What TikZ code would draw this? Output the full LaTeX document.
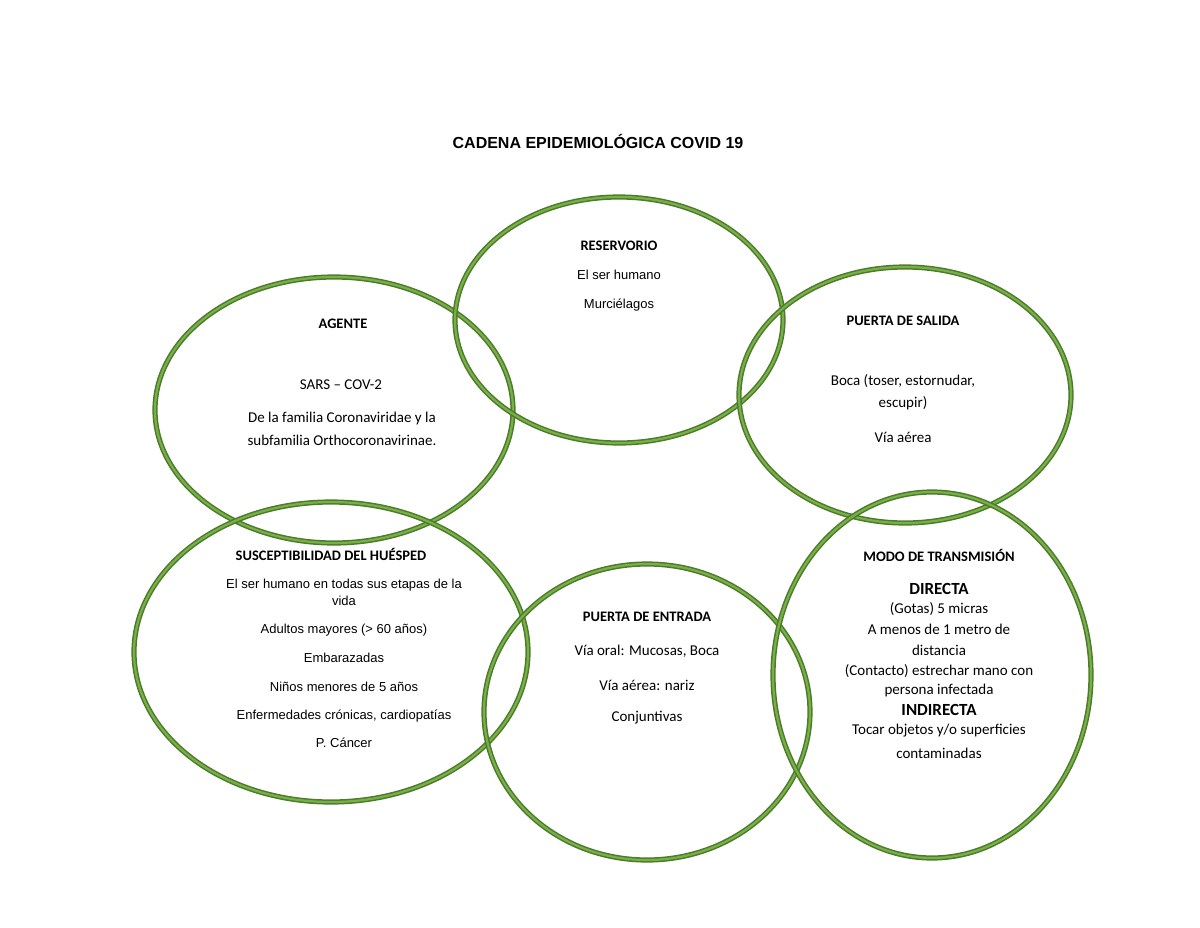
\documentclass[tikz,border=0pt]{standalone}
\usepackage{fontspec}
\setmainfont{Liberation Sans}
\newfontfamily\calfont{Carlito}
\definecolor{rimdark}{HTML}{4E7A2C}
\definecolor{rimlight}{HTML}{76B046}
\begin{document}
\begin{tikzpicture}[x=1pt,y=-1pt,
  ring/.style={draw=rimdark,line width=1.5pt,double=rimlight,double distance=2.2pt},
  ar/.style={font=\fontsize{13}{15}\selectfont},
  ca/.style={font=\calfont\fontsize{15}{17}\selectfont},
  hd/.style={font=\calfont\bfseries\fontsize{14.5}{17}\selectfont},
  ti/.style={font=\bfseries\fontsize{16}{19}\selectfont}]
\useasboundingbox (0,0) rectangle (1200,927);
\fill[white] (0,0) rectangle (1200,927);
\draw[ring] (334,410) ellipse [x radius=179,y radius=133];
\draw[ring] (619,320) ellipse [x radius=164,y radius=123];
\draw[ring] (905,395) ellipse [x radius=166,y radius=128];
\draw[ring] (331,652) ellipse [x radius=197,y radius=150];
\draw[ring] (647,712) ellipse [x radius=163,y radius=148];
\draw[ring] (932,675) ellipse [x radius=159,y radius=183];
\node[ti] (t) at (598,141) {CADENA EPIDEMIOLÓGICA COVID 19};
% agente
\node[hd] (a1) at (343,324) {AGENTE};
\node[ca] (a2) at (341,385) {SARS – COV-2};
\node[ca] (a3) at (342,418) {De la familia Coronaviridae y la};
\node[ca] (a4) at (342,440) {subfamilia Orthocoronavirinae.};
% reservorio
\node[hd] (r1) at (619,246) {RESERVORIO};
\node[ar] (r2) at (619,275) {El ser humano};
\node[ar] (r3) at (619,305) {Murciélagos};
% salida
\node[hd] (s1) at (903,321) {PUERTA DE SALIDA};
\node[ca] (s2) at (903,381) {Boca (toser, estornudar,};
\node[ca] (s3) at (903,403) {escupir)};
\node[ca] (s4) at (903,437) {Vía aérea};
% susceptibilidad
\node[hd] (u1) at (331,554) {SUSCEPTIBILIDAD DEL HUÉSPED};
\node[ar] (u2) at (344,585) {El ser humano en todas sus etapas de la};
\node[ar] (u3) at (344,601) {vida};
\node[ar] (u4) at (344,630) {Adultos mayores (> 60 años)};
\node[ar] (u5) at (344,658) {Embarazadas};
\node[ar] (u6) at (344,687) {Niños menores de 5 años};
\node[ar] (u7) at (344,716) {Enfermedades crónicas, cardiopatías};
\node[ar] (u8) at (344,743) {P. Cáncer};
% entrada
\node[hd] (e1) at (647,617) {PUERTA DE ENTRADA};
\node[ca] (e2) at (647,651) {Vía oral: Mucosas, Boca};
\node[ca] (e3) at (647,685) {Vía aérea: nariz};
\node[ca] (e4) at (647,718) {Conjuntivas};
% modo
\node[hd] (m1) at (939,555) {MODO DE TRANSMISIÓN};
\node[font=\calfont\bfseries\fontsize{17}{19}\selectfont] (m2) at (939,589) {DIRECTA};
\node[ca] (m3) at (939,609) {(Gotas) 5 micras};
\node[ca] (m4) at (939,629) {A menos de 1 metro de};
\node[ca] (m5) at (939,650) {distancia};
\node[ca] (m6) at (939,671) {(Contacto) estrechar mano con};
\node[ca] (m7) at (939,690) {persona infectada};
\node[font=\calfont\bfseries\fontsize{17}{19}\selectfont] (m8) at (939,710) {INDIRECTA};
\node[ca] (m9) at (939,731) {Tocar objetos y/o superficies};
\node[ca] (m10) at (939,753) {contaminadas};
\end{tikzpicture}
\end{document}
